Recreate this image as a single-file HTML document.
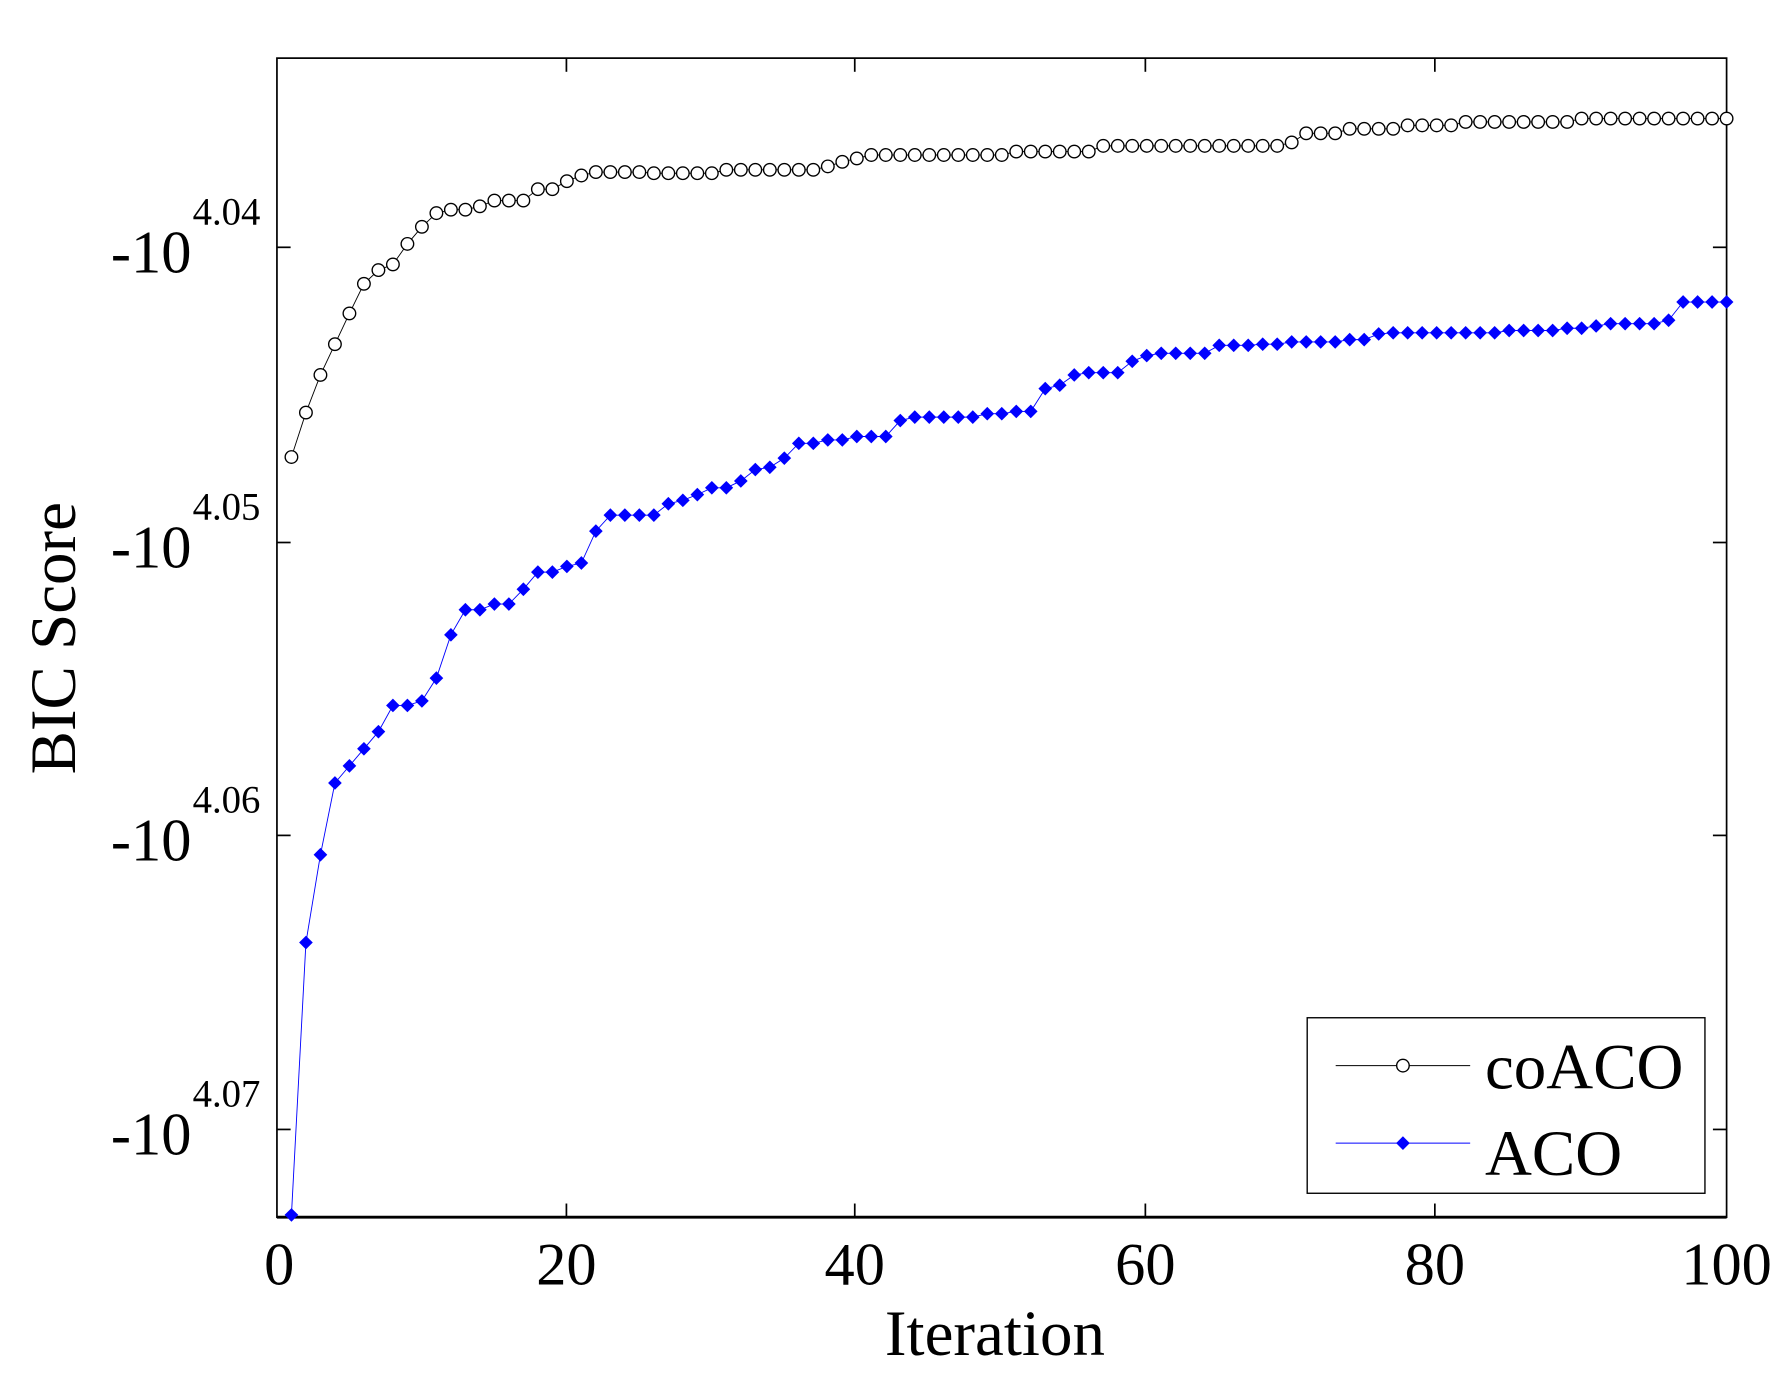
<!DOCTYPE html>
<html><head><style>html,body{margin:0;padding:0;background:#fff;}svg{display:block;}</style></head>
<body>
<svg id="s" width="1787" height="1382" viewBox="0 0 1568 1212.6" preserveAspectRatio="none" xmlns="http://www.w3.org/2000/svg" font-family="Liberation Serif, serif">
<rect x="0" y="0" width="1568" height="1213" fill="#fff"/>
<rect x="243" y="51" width="1272" height="1017" fill="none" stroke="#000" stroke-width="1.5"/>
<line x1="243" y1="1068" x2="1515" y2="1068" stroke="#000" stroke-width="2.5"/>
<g stroke="#000" stroke-width="1.5">
<line x1="497" y1="1068" x2="497" y2="1056"/><line x1="750" y1="1068" x2="750" y2="1056"/><line x1="1005" y1="1068" x2="1005" y2="1056"/><line x1="1259" y1="1068" x2="1259" y2="1056"/>
<line x1="497" y1="51" x2="497" y2="63"/><line x1="750" y1="51" x2="750" y2="63"/><line x1="1005" y1="51" x2="1005" y2="63"/><line x1="1259" y1="51" x2="1259" y2="63"/>
<line x1="243" y1="217" x2="255" y2="217"/><line x1="243" y1="476" x2="255" y2="476"/><line x1="243" y1="733" x2="255" y2="733"/><line x1="243" y1="991" x2="255" y2="991"/>
<line x1="1515" y1="217" x2="1503" y2="217"/><line x1="1515" y1="476" x2="1503" y2="476"/><line x1="1515" y1="733" x2="1503" y2="733"/><line x1="1515" y1="991" x2="1503" y2="991"/>
</g>
<g font-size="53" fill="#000" text-anchor="middle">
<text x="245" y="1127">0</text><text x="497" y="1127">20</text><text x="750" y="1127">40</text><text x="1005" y="1127">60</text><text x="1259" y="1127">80</text><text x="1515" y="1127">100</text>
</g>
<g fill="#000">
<text x="168" y="239" font-size="53" text-anchor="end">-10</text><text x="169" y="197" font-size="34">4.04</text>
<text x="168" y="498" font-size="53" text-anchor="end">-10</text><text x="169" y="456" font-size="34">4.05</text>
<text x="168" y="755" font-size="53" text-anchor="end">-10</text><text x="169" y="713" font-size="34">4.06</text>
<text x="168" y="1013" font-size="53" text-anchor="end">-10</text><text x="169" y="971" font-size="34">4.07</text>
</g>
<text x="873" y="1189" font-size="57" text-anchor="middle">Iteration</text>
<text transform="translate(66,560) rotate(-90)" font-size="57" text-anchor="middle">BIC Score</text>
<g id="series"></g>
<rect x="1147" y="893" width="349" height="154" fill="#fff" stroke="#000" stroke-width="1.2"/>
<line x1="1172" y1="935" x2="1290" y2="935" stroke="#000" stroke-width="0.8"/>
<circle cx="1231" cy="935" r="5.5" fill="#fff" stroke="#000" stroke-width="1.2"/>
<line x1="1172" y1="1003" x2="1290" y2="1003" stroke="#00f" stroke-width="0.8"/>
<polygon points="1231,997 1237,1003 1231,1009 1225,1003" fill="#00f"/>
<text x="1303" y="955" font-size="57">coACO</text>
<text x="1303" y="1031" font-size="57">ACO</text>
</svg>
<script>
var co=[401,362,329,302,275,249,237,232,214,199,187,184,184,181,176,176,176,166,166,159,154,151,151,151,151,152,152,152,152,152,149,149,149,149,149,149,149,146,142,139,136,136,136,136,136,136,136,136,136,136,133,133,133,133,133,133,128,128,128,128,128,128,128,128,128,128,128,128,128,125,117,117,117,113,113,113,113,110,110,110,110,107,107,107,107,107,107,107,107,104,104,104,104,104,104,104,104,104,104,104];
var ac=[1066,827,750,687,672,657,642,619,619,615,595,557,535,535,530,530,517,502,502,497,494,466,452,452,452,452,442,439,434,428,428,422,412,410,402,389,389,386,386,383,383,383,369,366,366,366,366,366,363,363,361,361,341,338,329,327,327,327,317,312,310,310,310,310,303,303,303,302,302,300,300,300,300,298,298,293,292,292,292,292,292,292,292,292,290,290,290,290,288,288,286,284,284,284,284,281,265,265,265,265];
function X(i){return 243+i*12.72;}
var g=document.getElementById('series'),h='';
var p1=co.map(function(y,i){return X(i+1)+','+y}).join(' ');
var p2=ac.map(function(y,i){return X(i+1)+','+y}).join(' ');
h+='<polyline points="'+p1+'" fill="none" stroke="#000" stroke-width="0.8"/>';
h+='<polyline points="'+p2+'" fill="none" stroke="#00f" stroke-width="0.8"/>';
co.forEach(function(y,i){h+='<circle cx="'+X(i+1)+'" cy="'+y+'" r="5.5" fill="#fff" stroke="#000" stroke-width="1.2"/>';});
ac.forEach(function(y,i){var x=X(i+1);h+='<polygon points="'+x+','+(y-6)+' '+(x+6)+','+y+' '+x+','+(y+6)+' '+(x-6)+','+y+'" fill="#00f"/>';});
g.innerHTML=h;
</script>
</body></html>
